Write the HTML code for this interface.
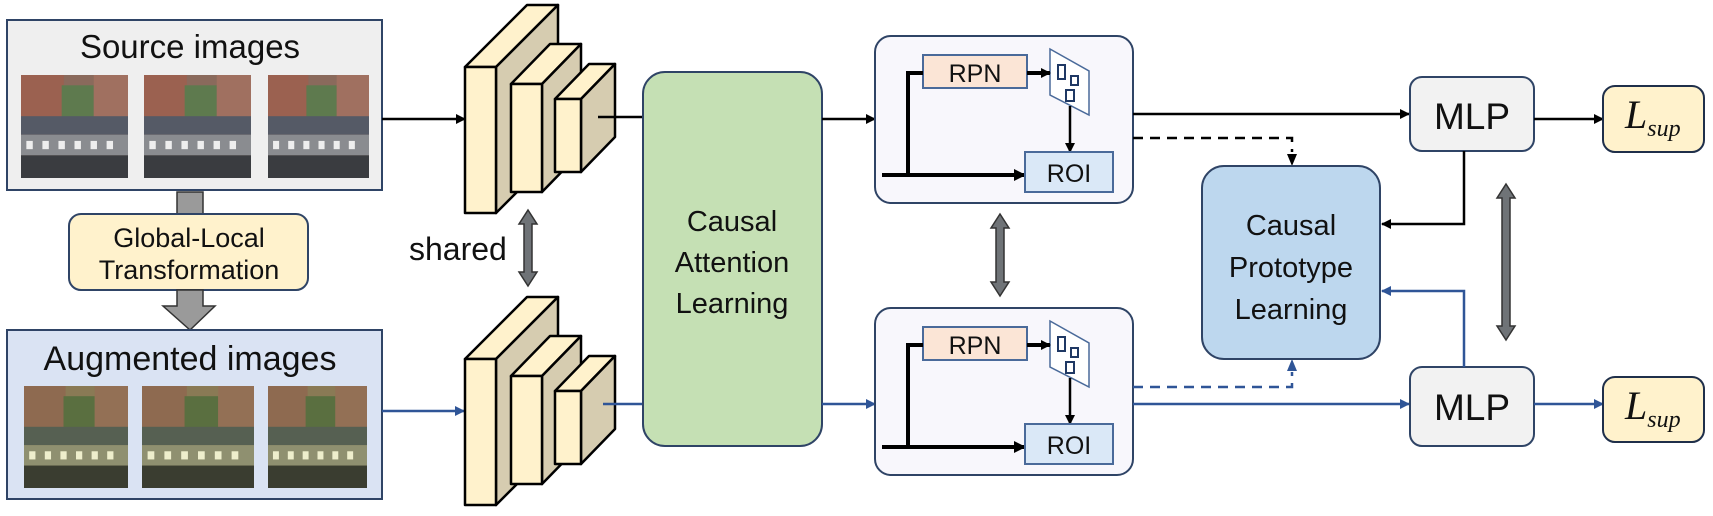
<!DOCTYPE html>
<html><head><meta charset="utf-8"><style>
html,body{margin:0;padding:0;background:#fff;}
svg{display:block;}
text{font-family:"Liberation Sans",Arial,sans-serif;fill:#111;}
</style></head><body>
<svg width="1713" height="516" viewBox="0 0 1713 516" xmlns="http://www.w3.org/2000/svg">
<defs>
<marker id="ab" markerWidth="10" markerHeight="10" refX="9" refY="5" orient="auto" markerUnits="userSpaceOnUse"><path d="M0,0 L10,5 L0,10 z" fill="#000"/></marker>
<marker id="ab2" markerWidth="12" markerHeight="12" refX="11" refY="6" orient="auto" markerUnits="userSpaceOnUse"><path d="M0,0 L12,6 L0,12 z" fill="#000"/></marker>
<marker id="au" markerWidth="10" markerHeight="10" refX="9" refY="5" orient="auto" markerUnits="userSpaceOnUse"><path d="M0,0 L10,5 L0,10 z" fill="#2f5597"/></marker>
<symbol id="ph" viewBox="0 0 100 100" preserveAspectRatio="none">
<rect width="100" height="100" fill="#8a6a5c"/>
<rect x="0" y="0" width="40" height="55" fill="#9b6150"/>
<rect x="38" y="10" width="30" height="40" fill="#5e7a4e"/>
<rect x="68" y="0" width="32" height="55" fill="#a07060"/>
<rect x="0" y="40" width="100" height="18" fill="#555a66"/>
<rect x="0" y="58" width="100" height="20" fill="#8a8c90"/>
<g fill="#eee"><rect x="5" y="64" width="6" height="8"/><rect x="20" y="64" width="6" height="8"/><rect x="35" y="64" width="6" height="8"/><rect x="50" y="64" width="6" height="8"/><rect x="65" y="64" width="6" height="8"/><rect x="80" y="64" width="6" height="8"/></g>
<rect x="0" y="78" width="100" height="22" fill="#3a3c40"/>
</symbol>
<symbol id="pa" viewBox="0 0 100 100" preserveAspectRatio="none">
<rect width="100" height="100" fill="#8a7a55"/>
<rect x="0" y="0" width="40" height="55" fill="#8e6a50"/>
<rect x="38" y="10" width="30" height="40" fill="#5a6f40"/>
<rect x="68" y="0" width="32" height="55" fill="#937055"/>
<rect x="0" y="40" width="100" height="18" fill="#566052"/>
<rect x="0" y="58" width="100" height="20" fill="#8f9070"/>
<g fill="#eeeecc"><rect x="5" y="64" width="6" height="8"/><rect x="20" y="64" width="6" height="8"/><rect x="35" y="64" width="6" height="8"/><rect x="50" y="64" width="6" height="8"/><rect x="65" y="64" width="6" height="8"/><rect x="80" y="64" width="6" height="8"/></g>
<rect x="0" y="78" width="100" height="22" fill="#3a3d30"/>
</symbol>
</defs>

<rect x="7" y="20" width="375" height="170" fill="#efefef" stroke="#2f4466" stroke-width="2"/>
<text x="190" y="58" font-size="33" text-anchor="middle">Source images</text>
<use href="#ph" x="21" y="75" width="107" height="103"/>
<use href="#ph" x="144" y="75" width="107" height="103"/>
<use href="#ph" x="268" y="75" width="101" height="103"/>

<rect x="177" y="192" width="26" height="22" fill="#9a9a9a" stroke="#333" stroke-width="1.5"/>
<rect x="69" y="214" width="239" height="76" rx="12" fill="#fff2cc" stroke="#2f4466" stroke-width="2"/>
<text x="189" y="247" font-size="27" text-anchor="middle">Global-Local</text>
<text x="189" y="279" font-size="27" text-anchor="middle">Transformation</text>
<path d="M177,290 L203,290 L203,306 L215,306 L190,330 L163,306 L177,306 z" fill="#9a9a9a" stroke="#333" stroke-width="1.5"/>

<rect x="7" y="330" width="375" height="169" fill="#dae3f3" stroke="#2f4466" stroke-width="2"/>
<text x="190" y="370" font-size="34" text-anchor="middle">Augmented images</text>
<use href="#pa" x="24" y="386" width="104" height="102"/>
<use href="#pa" x="142" y="386" width="112" height="102"/>
<use href="#pa" x="268" y="386" width="99" height="102"/>

<line x1="382" y1="119" x2="465" y2="119" stroke="#000" stroke-width="2.5" marker-end="url(#ab)"/>
<line x1="382" y1="411" x2="464" y2="411" stroke="#2f5597" stroke-width="2.5" marker-end="url(#au)"/>

<g stroke="#000" stroke-width="2.5" stroke-linejoin="round">
<g id="stk">
<path d="M465,67 L527,5 L558,5 L496,67 z" fill="#fff2cc"/>
<path d="M496,67 L558,5 L558,151 L496,213 z" fill="#d6ccb0"/>
<rect x="465" y="67" width="31" height="146" fill="#fff2cc"/>
<path d="M511,84 L550,44 L581,44 L542,84 z" fill="#fff2cc"/>
<path d="M542,84 L581,44 L581,152 L542,192 z" fill="#d6ccb0"/>
<rect x="511" y="84" width="31" height="108" fill="#fff2cc"/>
<path d="M555,99 L589,64 L615,64 L581,99 z" fill="#fff2cc"/>
<path d="M581,99 L615,64 L615,137 L581,172 z" fill="#d6ccb0"/>
<rect x="555" y="99" width="26" height="73" fill="#fff2cc"/>
</g>
<use href="#stk" transform="translate(0,292)"/>
</g>
<line x1="598" y1="117" x2="643" y2="117" stroke="#000" stroke-width="2.5"/>
<line x1="603" y1="404" x2="643" y2="404" stroke="#2f5597" stroke-width="2.5"/>

<text x="409" y="260" font-size="32">shared</text>
<path d="M528,210 L537,224 L532,224 L532,272 L537,272 L528,286 L519,272 L524,272 L524,224 L519,224 z" fill="#6f7377" stroke="#333" stroke-width="1.5"/>

<rect x="643" y="72" width="179" height="374" rx="22" fill="#c5e0b4" stroke="#2f4466" stroke-width="2"/>
<text x="732" y="231" font-size="29" text-anchor="middle">Causal</text>
<text x="732" y="272" font-size="29" text-anchor="middle">Attention</text>
<text x="732" y="313" font-size="29" text-anchor="middle">Learning</text>

<line x1="822" y1="119" x2="875" y2="119" stroke="#000" stroke-width="2.5" marker-end="url(#ab)"/>
<line x1="822" y1="404" x2="875" y2="404" stroke="#2f5597" stroke-width="2.5" marker-end="url(#au)"/>

<g id="det">
<rect x="875" y="36" width="258" height="167" rx="16" fill="#f8f7fc" stroke="#2f4466" stroke-width="2"/>
<rect x="923" y="55" width="104" height="33" fill="#fbe5d6" stroke="#4a6a9a" stroke-width="2"/>
<text x="975" y="82" font-size="25" text-anchor="middle">RPN</text>
<path d="M1050,49 L1089,71 L1089,115 L1050,95 z" fill="#fff" stroke="#4a6a9a" stroke-width="1.5"/>
<rect x="1058" y="65" width="7" height="14" fill="none" stroke="#1f3864" stroke-width="2"/>
<rect x="1071" y="76" width="7" height="9" fill="none" stroke="#1f3864" stroke-width="2"/>
<rect x="1066" y="90" width="8" height="11" fill="none" stroke="#1f3864" stroke-width="2"/>
<polyline points="908,175 908,73 923,73" fill="none" stroke="#000" stroke-width="4"/>
<line x1="1027" y1="73" x2="1050" y2="73" stroke="#000" stroke-width="4" marker-end="url(#ab)"/>
<line x1="1070" y1="106" x2="1070" y2="152" stroke="#000" stroke-width="2.5" marker-end="url(#ab)"/>
<line x1="882" y1="175" x2="1025" y2="175" stroke="#000" stroke-width="4" marker-end="url(#ab2)"/>
<rect x="1025" y="152" width="88" height="40" fill="#dae8f7" stroke="#4a6a9a" stroke-width="2"/>
<text x="1069" y="182" font-size="25" text-anchor="middle">ROI</text>
</g>
<use href="#det" transform="translate(0,272)"/>

<path d="M1000,214 L1009,228 L1004,228 L1004,282 L1009,282 L1000,296 L991,282 L996,282 L996,228 L991,228 z" fill="#6f7377" stroke="#333" stroke-width="1.5"/>

<line x1="1133" y1="114" x2="1409" y2="114" stroke="#000" stroke-width="2.5" marker-end="url(#ab)"/>
<polyline points="1133,138 1292,138 1292,152" fill="none" stroke="#000" stroke-width="2.5" stroke-dasharray="10,7"/>
<path d="M1287,154 L1297,154 L1292,166 z" fill="#000"/>
<line x1="1133" y1="404" x2="1409" y2="404" stroke="#2f5597" stroke-width="2.5" marker-end="url(#au)"/>
<polyline points="1133,387 1292,387 1292,372" fill="none" stroke="#2f5597" stroke-width="2.5" stroke-dasharray="10,7"/>
<path d="M1287,371 L1297,371 L1292,359 z" fill="#2f5597"/>

<rect x="1202" y="166" width="178" height="193" rx="22" fill="#bdd7ee" stroke="#2f4466" stroke-width="2"/>
<text x="1291" y="235" font-size="29" text-anchor="middle">Causal</text>
<text x="1291" y="277" font-size="29" text-anchor="middle">Prototype</text>
<text x="1291" y="319" font-size="29" text-anchor="middle">Learning</text>

<rect x="1410" y="77" width="124" height="74" rx="12" fill="#f2f2f2" stroke="#2f4466" stroke-width="2"/>
<text x="1472" y="129" font-size="37" text-anchor="middle">MLP</text>
<rect x="1410" y="367" width="124" height="79" rx="12" fill="#f2f2f2" stroke="#2f4466" stroke-width="2"/>
<text x="1472" y="420" font-size="37" text-anchor="middle">MLP</text>

<polyline points="1464,151 1464,224 1382,224" fill="none" stroke="#000" stroke-width="2.5" marker-end="url(#ab)"/>
<polyline points="1464,367 1464,291 1382,291" fill="none" stroke="#2f5597" stroke-width="2.5" marker-end="url(#au)"/>

<path d="M1506,184 L1515,198 L1510,198 L1510,326 L1515,326 L1506,340 L1497,326 L1502,326 L1502,198 L1497,198 z" fill="#6f7377" stroke="#333" stroke-width="1.5"/>

<line x1="1534" y1="119" x2="1603" y2="119" stroke="#000" stroke-width="2.5" marker-end="url(#ab)"/>
<line x1="1534" y1="404" x2="1603" y2="404" stroke="#2f5597" stroke-width="2.5" marker-end="url(#au)"/>

<rect x="1603" y="86" width="101" height="66" rx="12" fill="#fff2cc" stroke="#1f2f4a" stroke-width="2"/>
<text x="1625" y="128" font-size="40" font-style="italic" style="font-family:'Liberation Serif',serif">L<tspan font-size="24" dy="8">sup</tspan></text>
<rect x="1603" y="377" width="101" height="65" rx="12" fill="#fff2cc" stroke="#1f2f4a" stroke-width="2"/>
<text x="1625" y="419" font-size="40" font-style="italic" style="font-family:'Liberation Serif',serif">L<tspan font-size="24" dy="8">sup</tspan></text>
</svg>
</body></html>
